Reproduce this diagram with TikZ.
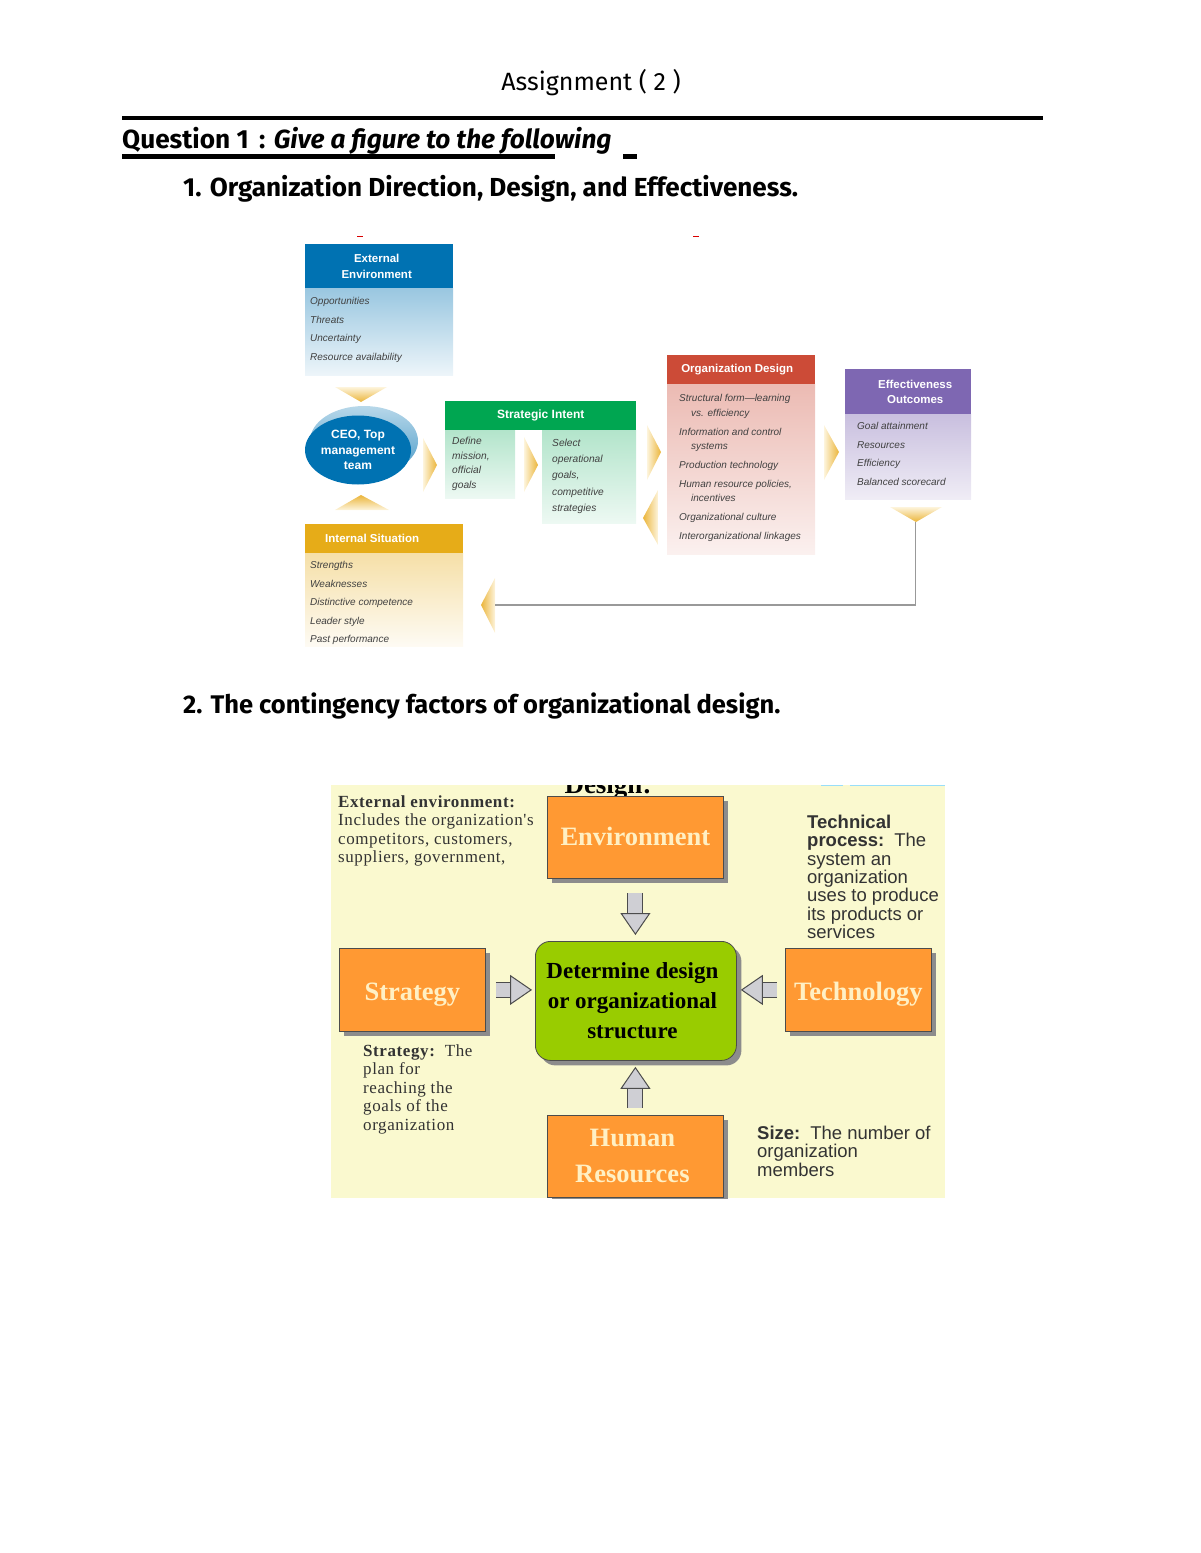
\documentclass[tikz,border=0pt]{standalone}
\usepackage{fontspec}
\setmainfont{Liberation Sans}
\newfontfamily\pagefont{Fira Sans}
\newfontfamily\slidefont{Liberation Serif}
\newfontfamily\notefont[LetterSpace=3.5]{Liberation Serif}
\usetikzlibrary{arrows.meta}
\usetikzlibrary{shadows}
\usetikzlibrary{shapes.geometric}

\definecolor{extblue}{HTML}{0072B2}
\definecolor{stratgreen}{HTML}{00A651}
\definecolor{orgred}{HTML}{CC4B37}
\definecolor{effpurple}{HTML}{7E67B2}
\definecolor{intgold}{HTML}{E6AC18}
\definecolor{chevgold}{HTML}{EBB53A}
\definecolor{chevpale}{HTML}{FDF4DC}
\definecolor{slideyellow}{HTML}{FAF9CF}
\definecolor{boxorange}{HTML}{FF9933}
\definecolor{boxgreen}{HTML}{99CC00}
\definecolor{boxtext}{HTML}{FFF0C4}
\definecolor{arrowgray}{HTML}{CFCFD4}

\tikzset{
  headbox/.style={anchor=north west, inner sep=0pt, align=center, text=white,
    font=\fontsize{11.5}{15.5}\selectfont\bfseries},
  bodybox/.style={anchor=north west, inner sep=0pt},
  listtext/.style={anchor=north west, inner sep=0pt, align=left, text=black!75,
    font=\fontsize{10}{18.6}\selectfont\itshape},
  chevdown/.style={top color=chevpale, bottom color=chevgold},
  chevup/.style={top color=chevgold, bottom color=chevpale},
  chevright/.style={left color=chevpale, right color=chevgold},
  chevleft/.style={left color=chevgold, right color=chevpale},
  feedline/.style={draw=black!40, line width=1.2pt},
  factorbox/.style={anchor=north west, inner sep=0pt, align=center, draw=black!70,
    fill=boxorange, text=boxtext, line width=0.8pt,
    drop shadow={shadow xshift=5pt, shadow yshift=-5pt, fill=black!45, opacity=1},
    font=\fontsize{26.5}{36}\slidefont\bfseries},
  blockarrow/.style={double=arrowgray, double distance=14pt, line width=1pt, draw=black!70,
    -{Triangle[length=22pt, width=30pt, fill=arrowgray]}},
  serifnote/.style={anchor=north west, inner sep=0pt, align=left, text=black!80,
    font=\fontsize{17}{18.4}\notefont},
  sansnote/.style={anchor=north west, inner sep=0pt, align=left, text=black!80,
    font=\fontsize{18.5}{18.3}\selectfont},
}

\begin{document}
\begin{tikzpicture}[x=1pt, y=-1pt]
  \useasboundingbox (0,0) rectangle (1200,1553);

  % page text
  \node [anchor=base, inner sep=0pt, font=\fontsize{25}{30}\pagefont] (title) at (591,90) {Assignment ( 2 )};
  \draw [line width=4pt] (122,117.5) -- (1043,117.5);
  \node [anchor=base west, inner sep=0pt, font=\fontsize{26.2}{30}\pagefont\bfseries] (question) at (122,148)
    {Question 1 \,: \textit{Give a figure to the following}};
  \draw [line width=4.5pt] (122,156.5) -- (555,156.5);
  \draw [line width=4.5pt] (623,156.5) -- (637,156.5);
  \node [anchor=base west, inner sep=0pt, font=\fontsize{26.1}{30}\pagefont\bfseries] (itemone) at (183,196)
    {1. Organization Direction, Design, and Effectiveness.};
  \node [anchor=base west, inner sep=0pt, font=\fontsize{25.5}{30}\pagefont\bfseries] (itemtwo) at (183,713)
    {2. The contingency factors of organizational design.};

  % first figure
  \fill [red!85!black] (357,235.5) rectangle (363,237);
  \fill [red!85!black] (693,235.5) rectangle (699,237);

  \node [headbox, fill=extblue, minimum width=148pt, minimum height=44pt] (exthead) at (305,244) {\hspace*{-5pt}External\\\hspace*{-5pt}Environment};
  \node [bodybox, top color=extblue!40, bottom color=extblue!7, minimum width=148pt, minimum height=87pt] (extbody) at (305,288) {};
  \node [listtext] (extlist) at (310,297) {Opportunities\\Threats\\Uncertainty\\Resource availability};

  \shade [chevdown] (335,387) -- (387,387) -- (361,402) -- cycle;
  \shade [top color=extblue!28, bottom color=extblue!72] (364,441) ellipse [x radius=54, y radius=35];
  \node [ellipse, fill=extblue, minimum width=106pt, minimum height=69pt, inner sep=0pt, text=white, align=center,
    font=\fontsize{12}{15.5}\selectfont\bfseries] (ceo) at (358,450) {CEO, Top\\management\\team};
  \shade [chevup] (335,510) -- (389,510) -- (361,495) -- cycle;
  \shade [chevright] (423,438) -- (437,465) -- (423,492) -- cycle;

  \node [headbox, fill=intgold, minimum width=158pt, minimum height=29pt] (inthead) at (305,524) {\hspace*{-24pt}Internal Situation};
  \node [bodybox, top color=intgold!38, bottom color=intgold!5, minimum width=158pt, minimum height=93pt] (intbody) at (305,553) {};
  \node [listtext] (intlist) at (310,561) {Strengths\\Weaknesses\\Distinctive competence\\Leader style\\Past performance};

  \node [headbox, fill=stratgreen, minimum width=191pt, minimum height=29pt, font=\fontsize{12}{15.5}\selectfont\bfseries] (strathead) at (445,401) {Strategic Intent};
  \node [bodybox, top color=stratgreen!30, bottom color=stratgreen!7, minimum width=70pt, minimum height=68pt] (stratleft) at (445,430) {};
  \node [bodybox, top color=stratgreen!30, bottom color=stratgreen!7, minimum width=94pt, minimum height=93pt] (stratright) at (542,430) {};
  \node [listtext, font=\fontsize{10.2}{14.6}\selectfont\itshape] (stratdefine) at (452,437) {Define\\mission,\\official\\goals};
  \node [listtext, font=\fontsize{10.2}{16.2}\selectfont\itshape] (stratselect) at (552,439) {Select\\operational\\goals,\\competitive\\strategies};
  \shade [chevright] (524,437) -- (538,465) -- (524,492) -- cycle;
  \shade [chevright] (647,425) -- (661,452) -- (647,480) -- cycle;
  \shade [chevleft] (643,518) -- (658,490) -- (658,545) -- cycle;

  \node [headbox, fill=orgred, minimum width=148pt, minimum height=29pt] (orghead) at (667,355) {\hspace*{-8pt}Organization Design};
  \node [bodybox, top color=orgred!38, bottom color=orgred!8, minimum width=148pt, minimum height=170pt] (orgbody) at (667,384) {};
  \node [listtext, font=\fontsize{10}{14.5}\selectfont\itshape] (orglist) at (679,394.5)
    {Structural form---learning\\\hspace*{12pt}vs. efficiency\\[4.3pt]Information and control\\\hspace*{12pt}systems\\[4.3pt]Production technology\\[4.3pt]Human resource policies,\\\hspace*{12pt}incentives\\[4.3pt]Organizational culture\\[4.3pt]Interorganizational linkages};
  \shade [chevright] (824,425) -- (839,452) -- (824,480) -- cycle;

  \node [headbox, fill=effpurple, minimum width=126pt, minimum height=45pt] (effhead) at (845,369) {\hspace*{14pt}Effectiveness\\\hspace*{14pt}Outcomes};
  \node [bodybox, top color=effpurple!42, bottom color=effpurple!12, minimum width=126pt, minimum height=85pt] (effbody) at (845,414) {};
  \node [listtext] (efflist) at (857,422) {Goal attainment\\Resources\\Efficiency\\Balanced scorecard};

  \shade [chevdown] (890,507) -- (942,507) -- (916,522) -- cycle;
  \shade [chevleft] (481,605) -- (495,578) -- (495,633) -- cycle;
  \coordinate (feedstart) at (915.5,522);
  \coordinate (feedend) at (495,605);
  \draw [feedline] (feedstart) |- (feedend);

  % second figure
  \fill [slideyellow] (331,785) rectangle (945,1198);
  \draw [cyan!40, line width=1pt] (821,785.5) -- (843,785.5);
  \draw [cyan!40, line width=1pt] (850,785.5) -- (945,785.5);
  \begin{scope}
    \clip (331,785) rectangle (945,1198);
    \node [anchor=base, inner sep=0pt, font=\fontsize{27}{30}\slidefont\bfseries] (cuthead) at (608,793) {Design:};

    \node [factorbox, minimum width=176pt, minimum height=82pt, text depth=3pt] (environment) at (547,796) {Environment};
    \node [factorbox, minimum width=146pt, minimum height=83pt, text depth=0pt] (strategy) at (339,948) {\raisebox{-3pt}{Strategy}};
    \node [factorbox, minimum width=146pt, minimum height=83pt, text depth=0pt] (technology) at (785,948) {\raisebox{-3pt}{Technology}};
    \node [factorbox, minimum width=176pt, minimum height=82pt] (human) at (547,1115) {\hspace*{-6pt}Human\\\hspace*{-6pt}Resources};
    \node [factorbox, rounded corners=15pt, fill=boxgreen, text=black, minimum width=201pt, minimum height=119pt,
      font=\fontsize{23}{30}\slidefont\bfseries] (determine) at (535,941) {\hspace*{-7pt}Determine design\\\hspace*{-7pt}or organizational\\\hspace*{-7pt}structure};

    \draw [blockarrow, shorten <=14pt, shorten >=6pt] (environment.south) -- (environment.south |- determine.north);
    \draw [blockarrow, shorten <=10pt, shorten >=3pt] (strategy.east) -- (determine.west |- strategy.east);
    \draw [blockarrow, shorten <=8pt, shorten >=4pt] (technology.west) -- (determine.east |- technology.west);
    \draw [blockarrow, shorten <=7pt, shorten >=6pt] (human.north) -- (human.north |- determine.south);
  \end{scope}

  \node [serifnote] (extnote) at (338,795.5) {\textbf{External environment:}\\Includes the organization's\\competitors, customers,\\suppliers, government,};
  \node [serifnote] (stratnote) at (363,1044.5) {\textbf{Strategy:}\, The\\plan for\\reaching the\\goals of the\\organization};
  \node [sansnote] (technote) at (807,815) {\textbf{Technical}\\\textbf{process:}\, The\\system an\\organization\\uses to produce\\its products or\\services};
  \node [sansnote] (sizenote) at (757,1126) {\textbf{Size:}\, The number of\\organization\\members};
\end{tikzpicture}
\end{document}
